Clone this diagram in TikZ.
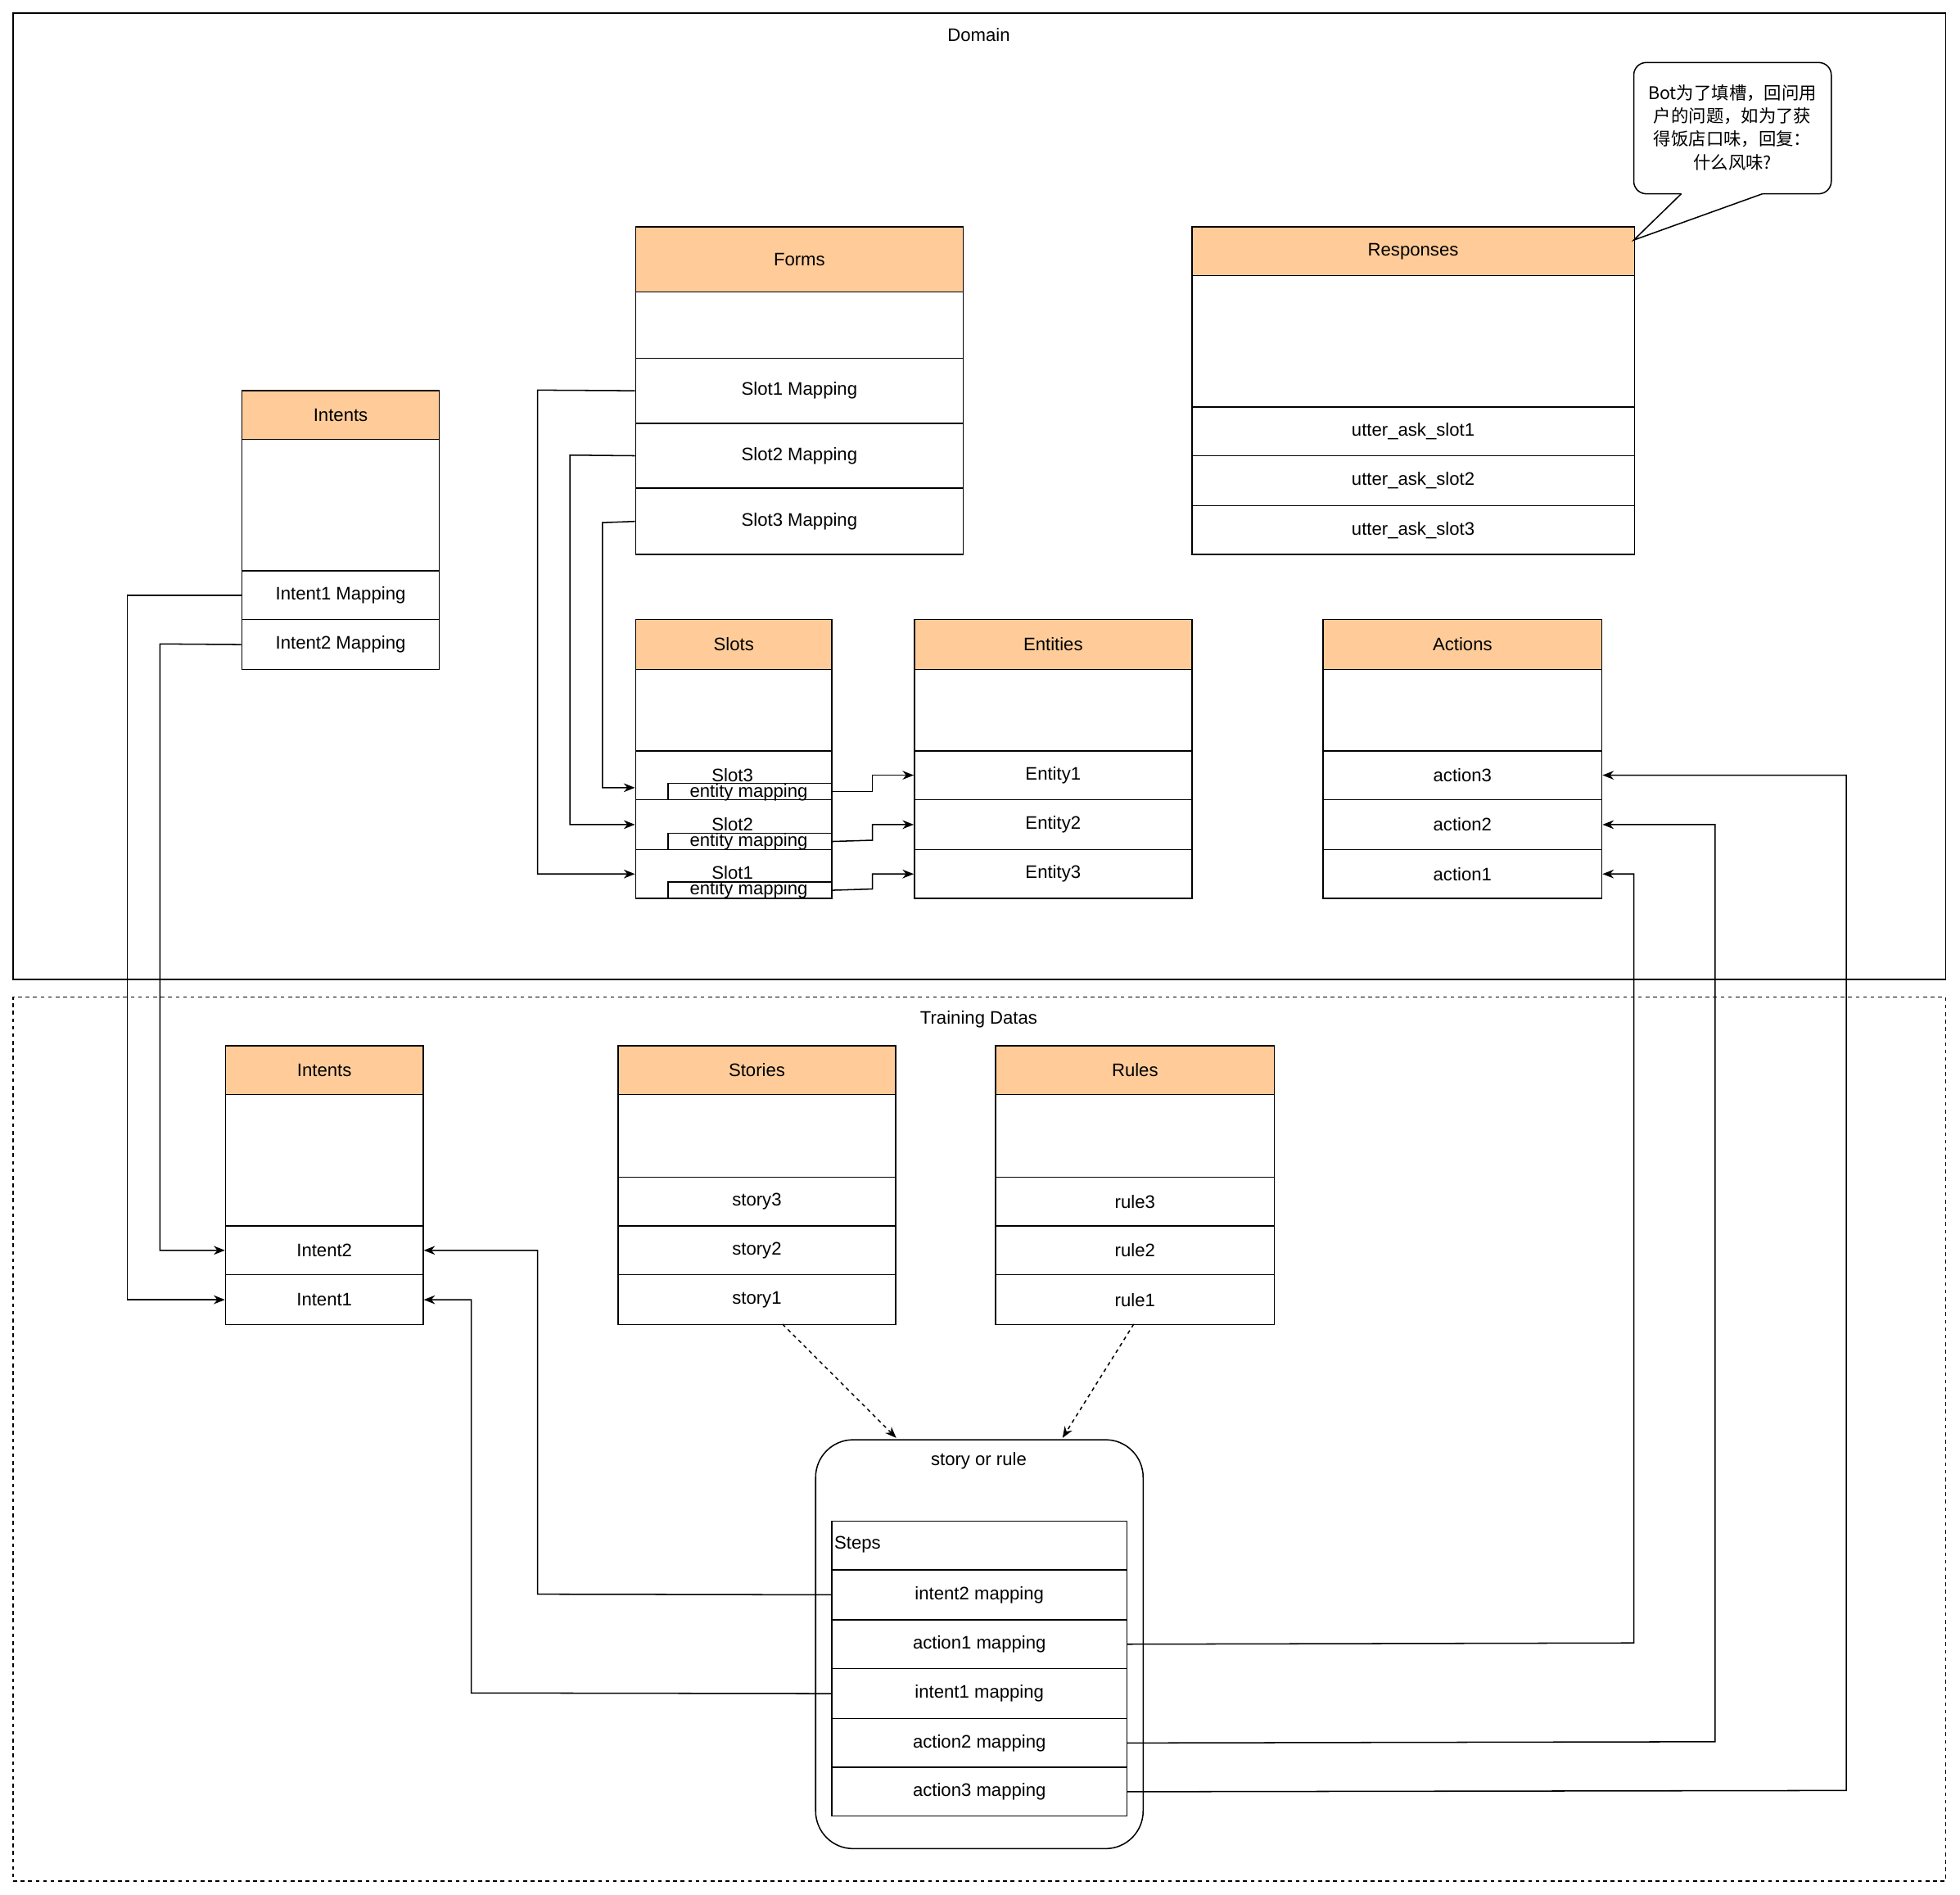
\documentclass[tikz,border=0pt]{standalone}
\usepackage{fontspec}
\setmainfont{Liberation Sans}
\newfontfamily\cjk{Noto Sans CJK SC}
\usetikzlibrary{arrows.meta}
\definecolor{hdr}{HTML}{FFCC99}
\newcommand\cell[7][]{\node[draw,inner sep=0pt,anchor=north west,minimum width={(#4-#2)*1pt},minimum height={(#5-#3)*1pt},#1] (#6) at (#2,#3) {#7};}
\tikzset{hd/.style={fill=hdr},
 link/.style={-{Stealth[length=9pt,width=7pt]}},
 dlink/.style={-{Stealth[length=9pt,width=7pt]},dashed}}
\begin{document}
\begin{tikzpicture}[x=1pt,y=-1pt,font=\fontsize{14.5}{17}\selectfont,line width=1pt]
\useasboundingbox (0,0) rectangle (1568,1515);
% containers
\node[draw,inner sep=0,anchor=north west,minimum width=1546pt,minimum height=773pt] (domain) at (10,10) {};
\node (domt) at (783,28) {Domain};
\node[draw,dashed,inner sep=0,anchor=north west,minimum width=1546pt,minimum height=707pt] (train) at (10,797) {};
\node (traint) at (783,815) {Training Datas};
% Forms
\cell[hd]{508}{181}{770}{233}{fh}{Forms}
\cell{508}{233}{770}{286}{fe}{}
\cell{508}{286}{770}{338}{fs1}{Slot1 Mapping}
\cell{508}{338}{770}{390}{fs2}{Slot2 Mapping}
\cell{508}{390}{770}{443}{fs3}{Slot3 Mapping}
% Responses
\cell[hd]{953}{181}{1307}{220}{rh}{Responses}
\cell{953}{220}{1307}{325}{re}{}
\cell{953}{325}{1307}{364}{r1}{utter\_ask\_slot1}
\cell{953}{364}{1307}{404}{r2}{utter\_ask\_slot2}
\cell{953}{404}{1307}{443}{r3}{utter\_ask\_slot3}
% callout
\draw[rounded corners=10pt] (1410,155) -- (1465,155) -- (1465,50) -- (1307,50) -- (1307,155) -- (1345,155);
\draw (1345,155) -- (1307,192) -- (1410,155);
\node[align=center,font=\cjk\fontsize{14}{18.5}\selectfont,inner sep=0] (call) at (1386,102) {Bot为了填槽，回问用\\户的问题，如为了获\\得饭店口味，回复：\\什么风味?};
% Intents domain
\cell[hd]{193}{312}{351}{351}{ih}{Intents}
\cell{193}{351}{351}{456}{ie}{}
\cell{193}{456}{351}{495}{im1}{Intent1 Mapping}
\cell{193}{495}{351}{535}{im2}{Intent2 Mapping}
% Slots
\cell[hd]{508}{495}{665}{535}{sh}{Slots}
\cell{508}{535}{665}{600}{se}{}
\cell{508}{600}{665}{639}{s3}{}
\cell{508}{639}{665}{679}{s2}{}
\cell{508}{679}{665}{718}{s1}{}
\node (s3t) at (586,620) {Slot3};
\node (s2t) at (586,659) {Slot2};
\node (s1t) at (586,698) {Slot1};
\cell{534}{626}{665}{639}{e3}{}
\cell{534}{666}{665}{679}{e2}{}
\cell{534}{705}{665}{718}{e1}{}
\node (e3t) at (599,634) {entity mapping};
\node (e2t) at (599,673) {entity mapping};
\node (e1t) at (599,712) {entity mapping};
% Entities
\cell[hd]{731}{495}{953}{535}{enh}{Entities}
\cell{731}{535}{953}{600}{ene}{}
\cell{731}{600}{953}{639}{en1}{Entity1}
\cell{731}{639}{953}{679}{en2}{Entity2}
\cell{731}{679}{953}{718}{en3}{Entity3}
% Actions
\cell[hd]{1058}{495}{1281}{535}{ah}{Actions}
\cell{1058}{535}{1281}{600}{ae}{}
\cell{1058}{600}{1281}{639}{a3}{action3}
\cell{1058}{639}{1281}{679}{a2}{action2}
\cell{1058}{679}{1281}{718}{a1}{action1}
% Training intents
\cell[hd]{180}{836}{338}{875}{tih}{Intents}
\cell{180}{875}{338}{980}{tie}{}
\cell{180}{980}{338}{1019}{ti2}{Intent2}
\cell{180}{1019}{338}{1059}{ti1}{Intent1}
% Stories
\cell[hd]{494}{836}{716}{875}{sth}{Stories}
\cell{494}{875}{716}{941}{ste}{}
\cell{494}{941}{716}{980}{st3}{story3}
\cell{494}{980}{716}{1019}{st2}{story2}
\cell{494}{1019}{716}{1059}{st1}{story1}
% Rules
\cell[hd]{796}{836}{1019}{875}{ruh}{Rules}
\cell{796}{875}{1019}{941}{rue}{}
\cell{796}{941}{1019}{980}{ru3}{rule3}
\cell{796}{980}{1019}{1019}{ru2}{rule2}
\cell{796}{1019}{1019}{1059}{ru1}{rule1}
% story or rule
\node[draw,rounded corners=30pt,inner sep=0,anchor=north west,minimum width=262pt,minimum height=327pt] (sor) at (652,1151) {};
\node (sort) at (783,1168) {story or rule};
\cell{665}{1216}{901}{1255}{steps}{}
\node[anchor=west,inner sep=2pt] (stepst) at (665,1235) {Steps};
\cell{665}{1255}{901}{1295}{m1}{intent2 mapping}
\cell{665}{1295}{901}{1334}{m2}{action1 mapping}
\cell{665}{1334}{901}{1374}{m3}{intent1 mapping}
\cell{665}{1374}{901}{1413}{m4}{action2 mapping}
\cell{665}{1413}{901}{1452}{m5}{action3 mapping}
% connectors
\draw[link] (fs1.west) -- (430,312) |- (s1.west);
\draw[link] (fs2.west) -- (456,364) |- (s2.west);
\draw[link] (fs3.west) -- (482,418) |- (508,630);
\draw[link] (e3.east) -- (698,633) |- (en1.west);
\draw[link] (e2.east) -- (698,672) |- (en2.west);
\draw[link] (e1.east) -- (698,711) |- (en3.west);
\draw[link] (im1.west) -- (102,476) |- (ti1.west);
\draw[link] (im2.west) -- (128,515) |- (ti2.west);
\draw[dlink] (626,1059) -- (717,1150);
\draw[dlink] (907,1059) -- (850,1150);
\draw[link] (m1.west) -- (430,1275) |- (ti2.east);
\draw[link] (m3.west) -- (377,1354) |- (ti1.east);
\draw[link] (m2.east) -- (1307,1314) |- (a1.east);
\draw[link] (m4.east) -- (1372,1393) |- (a2.east);
\draw[link] (m5.east) -- (1477,1432) |- (a3.east);
\end{tikzpicture}
\end{document}
